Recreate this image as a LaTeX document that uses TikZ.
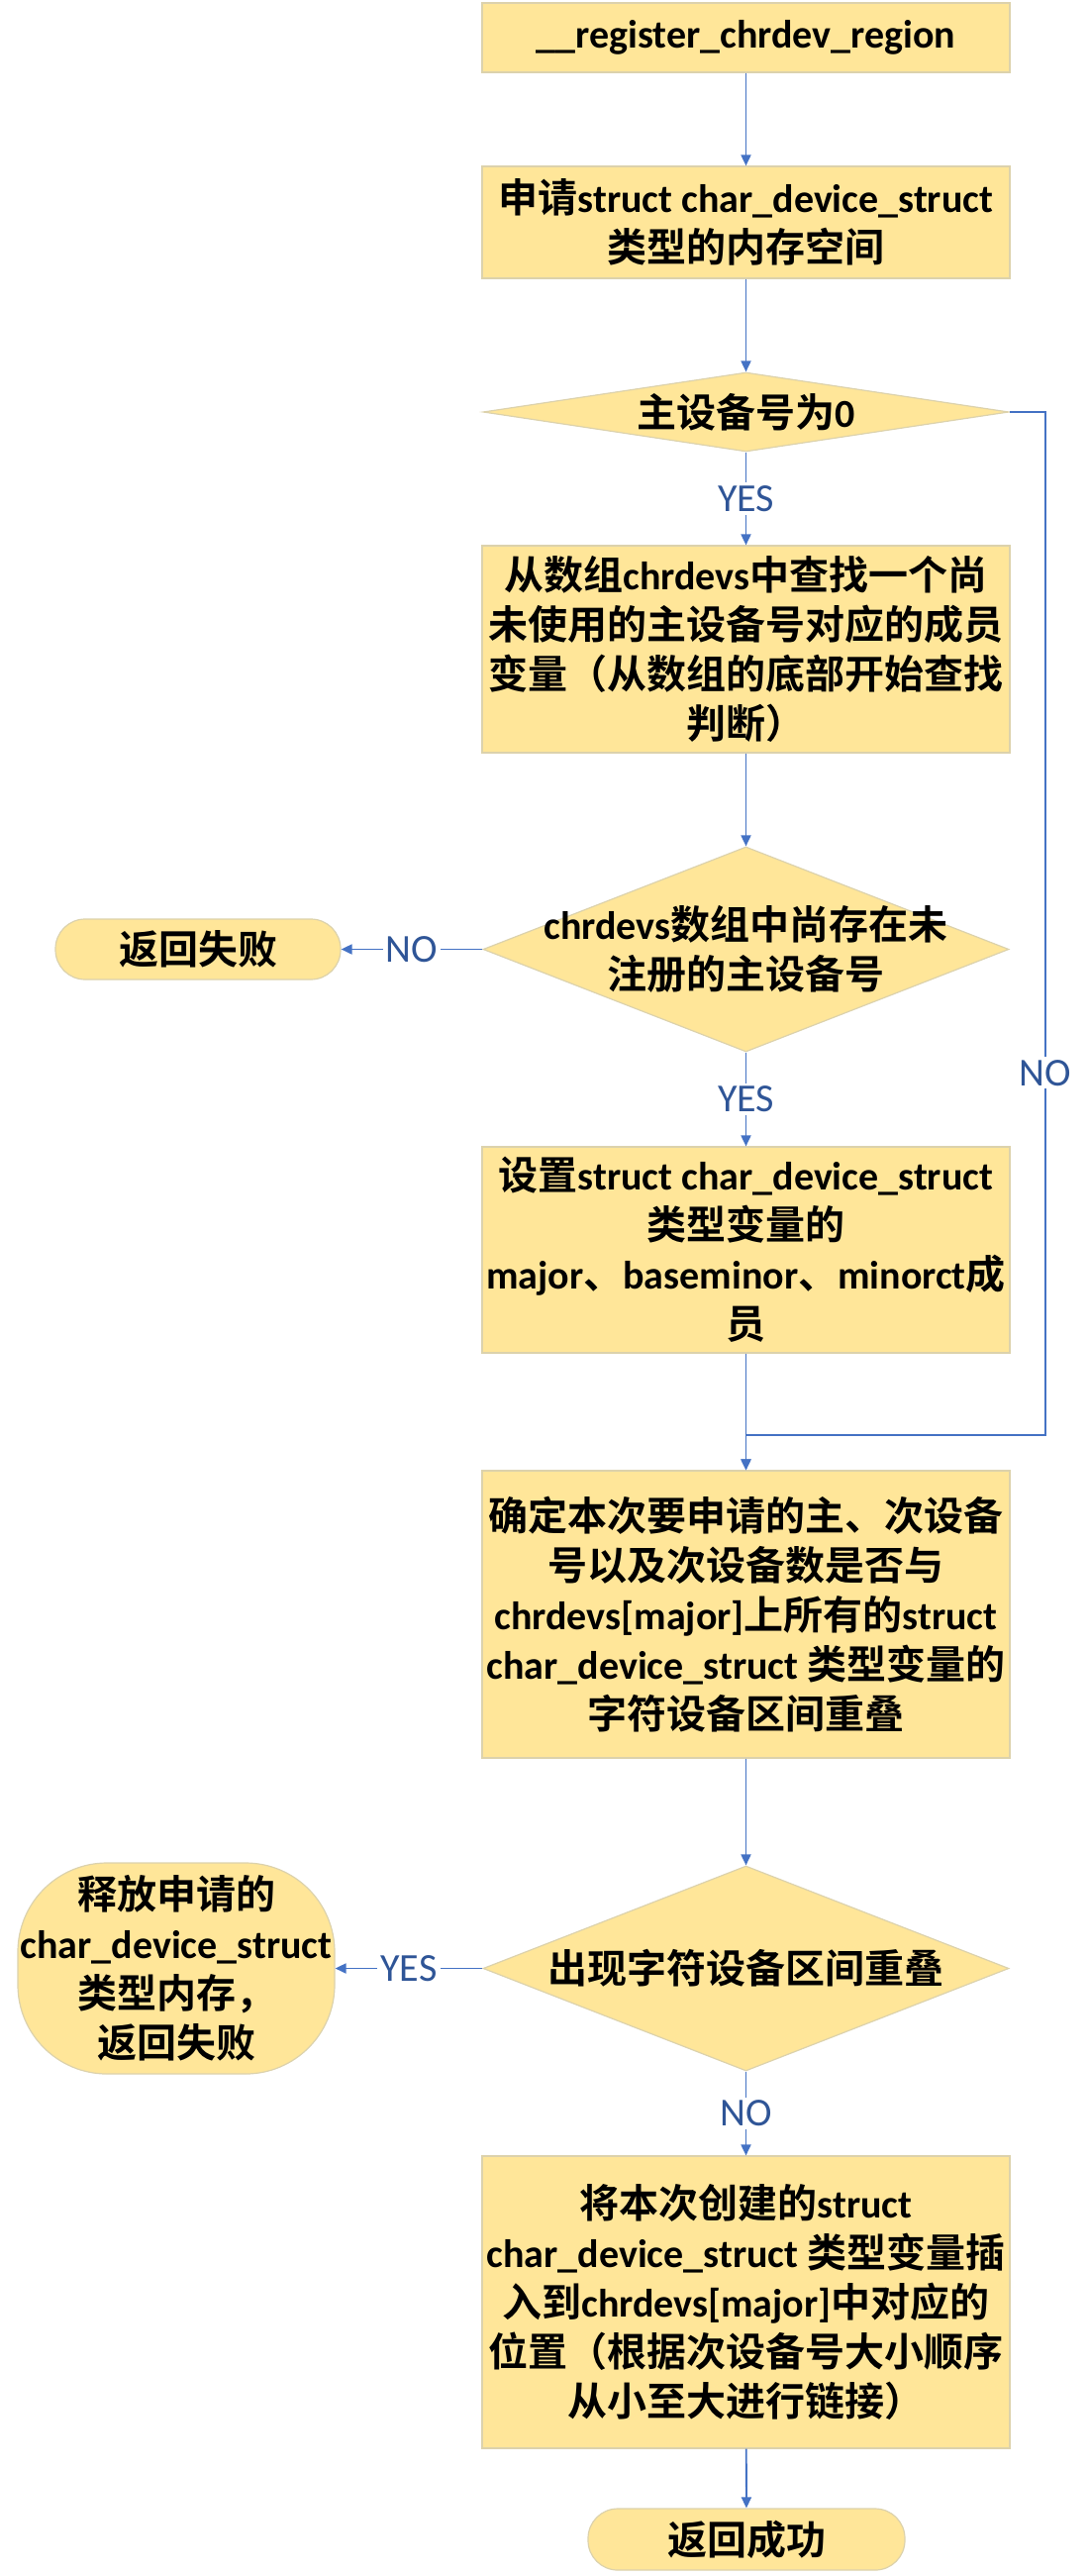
\documentclass[tikz,border=0pt]{standalone}
\usepackage{fontspec}
\setmainfont{Carlito}
\newfontfamily\cjk{Noto Sans CJK SC}[BoldFont={Noto Sans CJK SC Bold}]
\usetikzlibrary{shapes.geometric,arrows.meta}
\newcommand\C[1]{{\cjk #1}}
\definecolor{boxfill}{HTML}{FFE699}
\definecolor{boxline}{HTML}{DCD2AC}
\definecolor{arrblue}{HTML}{4472C4}
\definecolor{labblue}{HTML}{2F5597}
\tikzset{
  txt/.style={align=center, font=\fontsize{20}{25}\selectfont\bfseries},
  box/.style={txt, draw=boxline, fill=boxfill, line width=0.6pt, minimum width=266.5pt, inner sep=0pt},
  dia/.style={diamond, draw=boxline, fill=boxfill, line width=0.6pt, minimum width=265.5pt, inner sep=0pt},
  pill/.style={txt, draw=boxline, fill=boxfill, line width=0.6pt, rounded corners=15pt, inner sep=0pt},
  arr/.style={draw=arrblue, line width=0.9pt, -{Triangle[length=5.5pt,width=5pt]}},
  lab/.style={fill=white, text=labblue, inner sep=1.5pt, font=\fontsize{20}{24}\selectfont}
}
\begin{document}
\begin{tikzpicture}[x=0.5pt,y=-0.5pt]
\useasboundingbox (0,0) rectangle (1099,2601);
\node[box, minimum height=35pt] (b1) at (753.5,38) {\_\_register\_chrdev\_region};
\node[box, minimum height=56.5pt] (b2) at (753.5,224.5) {\C{申请}struct char\_device\_struct\\\C{类型的内存空间}};
\node[dia, minimum height=40pt, label={[txt]center:{\C{主设备号为}0}}] (d1) at (753.5,416) {};
\node[box, minimum height=104.5pt] (b3) at (753.5,655.5) {\C{从数组}chrdevs\C{中查找一个尚}\\\C{未使用的主设备号对应的成员}\\\C{变量（从数组的底部开始查找}\\\C{判断）}};
\node[dia, minimum height=103.5pt, label={[txt]center:{chrdevs\C{数组中尚存在未}\\\C{注册的主设备号}}}] (d2) at (753.5,958.5) {};
\node[pill, minimum width=144pt, minimum height=30.5pt] (f1) at (200,958.5) {\C{返回失败}};
\node[box, minimum height=104pt] (b4) at (753.5,1262) {\C{设置}struct char\_device\_struct\\\C{类型变量的}\\major\C{、}baseminor\C{、}minorct\C{成}\\\C{员}};
\node[box, minimum height=145pt] (b5) at (753.5,1630) {\C{确定本次要申请的主、次设备}\\\C{号以及次设备数是否与}\\chrdevs[major]\C{上所有的}struct\\char\_device\_struct \C{类型变量的}\\\C{字符设备区间重叠}};
\node[dia, minimum height=103.5pt, label={[txt]center:{\C{出现字符设备区间重叠}}}] (d3) at (753.5,1987.5) {};
\node[pill, rounded corners=45pt, minimum width=160pt, minimum height=106.5pt] (rel) at (178,1987.5) {\C{释放申请的}\\char\_device\_struct\\\C{类型内存，}\\\C{返回失败}};
\node[box, minimum height=147.5pt] (b6) at (753.5,2324.5) {\C{将本次创建的}struct\\char\_device\_struct \C{类型变量插}\\\C{入到}chrdevs[major]\C{中对应的}\\\C{位置（根据次设备号大小顺序}\\\C{从小至大进行链接）}};
\node[pill, minimum width=160pt, minimum height=31pt] (ok) at (754,2564) {\C{返回成功}};
\coordinate (r1) at (1056,416);
\coordinate (r2) at (1056,1449);
\coordinate (m) at (753.5,1449);
\draw[arr] (b1) -- (b2);
\draw[arr] (b2) -- (d1);
\draw[arr] (d1) -- node[lab]{YES} (b3);
\draw[arr] (b3) -- (d2);
\draw[arr] (d2.west) -- node[lab]{NO} (f1.east);
\draw[arr] (d2) -- node[lab]{YES} (b4);
\draw[arr] (b4) -- (b5);
\draw[arr] (d1.east) -- (r1) -- node[lab, pos=0.646]{NO} (r2) -- (m) -- (b5.north);
\draw[arr] (b5) -- (d3);
\draw[arr] (d3.west) -- node[lab]{YES} (rel.east);
\draw[arr] (d3) -- node[lab]{NO} (b6);
\draw[arr] (b6) -- (ok);
\end{tikzpicture}
\end{document}
